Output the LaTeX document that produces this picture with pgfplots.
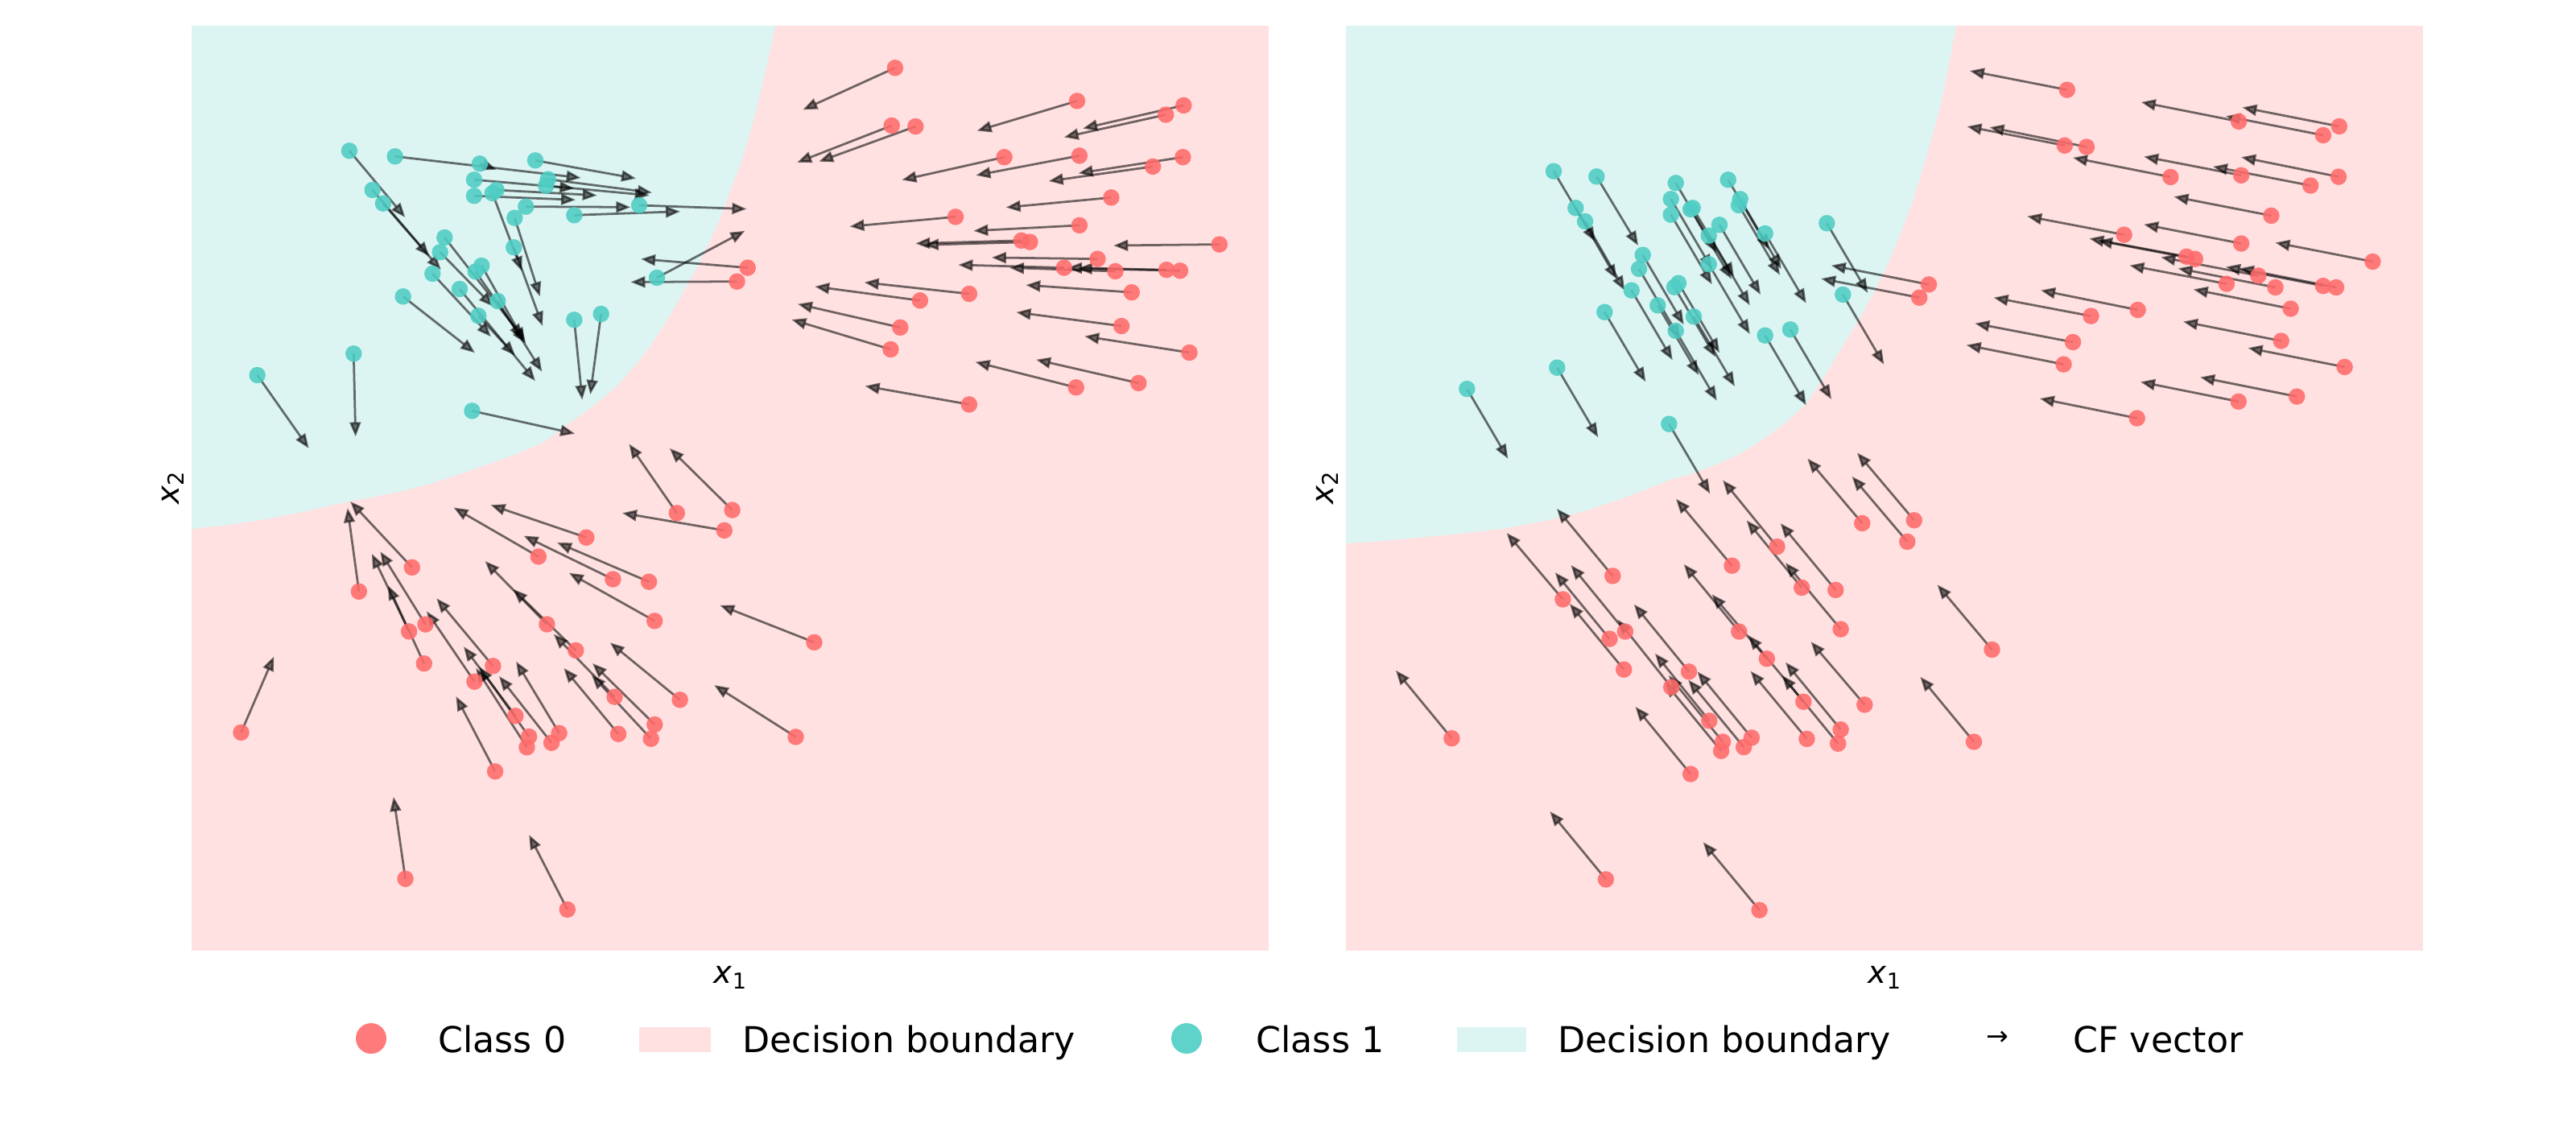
\documentclass[border=0pt]{standalone}
\usepackage{fontspec}
\setmainfont{DejaVu Sans}
\usepackage{pgfplots}
\pgfplotsset{compat=1.18}
\usepackage{pgfplotstable}
\usetikzlibrary{arrows.meta}

\definecolor{cls0}{HTML}{FF6B6B}
\definecolor{cls1}{HTML}{4ECDC4}
\definecolor{bg0}{HTML}{FFE1E1}
\definecolor{bg1}{HTML}{DCF5F3}

% points (x y) and tips of the CF vectors (tx ty), picture units, y downwards
\pgfplotstableread{
x y tx ty
1111.9 84.3 997.4 136.3
1338.0 125.4 1213.7 162.5
1470.3 130.9 1345.2 159.6
1448.2 142.5 1321.8 170.5
1107.7 156.0 990.2 201.8
1137.3 157.1 1017.3 200.7
1247.6 195.2 1120.4 223.6
1340.9 193.4 1212.4 217.8
1469.4 195.2 1339.6 215.2
1432.1 206.9 1302.7 225.0
1380.4 245.4 1249.7 257.7
1187.0 269.4 1055.5 281.4
1340.9 279.9 1209.4 286.8
1268.8 298.8 1137.3 302.5
1279.4 300.6 1148.0 304.3
1514.8 303.6 1383.3 305.0
1363.4 321.7 1231.9 319.9
1321.8 332.6 1190.4 329.0
1385.5 337.0 1254.0 332.6
1449.1 335.2 1326.1 332.6
1466.0 336.3 1338.8 333.4
928.7 332.6 796.1 321.7
915.5 349.7 783.5 350.4
1203.9 365.0 1073.7 350.8
1142.9 373.3 1012.2 355.9
1405.8 363.2 1274.3 354.1
1118.3 406.8 991.0 377.7
1106.4 434.0 983.4 397.0
1393.1 405.0 1262.5 387.9
1477.5 438.0 1347.3 417.7
1336.7 481.3 1211.6 449.7
1414.3 475.9 1287.1 446.8
1203.9 502.4 1074.6 479.5
909.6 633.6 831.9 556.9
899.8 658.9 773.0 637.3
1011.4 797.9 894.3 751.8
988.5 915.4 887.1 851.0
840.8 637.3 781.4 551.5
728.3 667.7 609.5 627.3
668.8 691.4 563.5 630.5
761.4 719.5 650.6 665.6
806.1 722.7 692.1 674.0
813.2 771.3 706.8 711.7
511.8 704.8 435.2 623.0
445.9 734.8 431.7 631.2
528.5 775.6 472.4 685.1
508.1 784.4 461.9 687.9
526.8 824.2 482.0 727.3
612.4 827.3 542.3 743.3
589.4 846.7 530.0 759.3
640.3 889.3 576.0 803.3
657.1 915.0 595.2 828.3
654.5 928.3 591.3 830.0
685.1 922.7 620.0 840.0
694.6 910.7 641.1 821.7
615.1 958.3 566.5 865.0
679.4 775.5 602.5 697.0
715.3 808.0 637.4 731.8
763.5 865.7 687.8 787.7
813.3 900.0 736.0 824.0
808.7 917.7 734.8 838.3
768.1 911.7 700.4 830.0
844.6 869.3 757.8 798.3
299.5 909.9 340.3 815.4
503.6 1091.7 488.9 989.9
704.8 1129.8 657.2 1037.1
}\leftzero

\pgfplotstableread{
x y tx ty
434.0 187.3 503.3 270.0
462.7 236.0 533.3 318.3
476.0 252.7 547.7 335.0
490.7 194.3 721.7 221.0
596.0 203.3 616.7 210.7
665.0 199.3 790.0 221.7
589.0 223.3 713.3 234.0
680.7 222.7 810.0 239.3
678.3 230.7 806.7 242.7
616.7 236.0 741.7 242.7
589.0 243.3 715.0 248.3
611.7 240.0 648.3 336.7
653.3 256.7 783.3 257.3
713.3 267.3 845.0 262.7
794.0 255.0 927.4 259.6
639.3 270.7 670.7 368.3
638.3 307.3 674.0 405.0
552.3 295.0 650.0 420.0
546.7 313.3 612.7 380.7
537.3 340.0 610.0 418.3
571.0 359.0 665.0 473.3
598.3 330.0 651.7 425.0
590.7 337.3 653.3 426.7
618.3 374.0 673.3 461.7
594.3 392.3 640.0 441.7
500.7 368.3 590.0 438.3
713.3 397.3 723.3 496.7
746.7 390.0 733.3 490.0
439.3 439.3 441.7 542.4
319.7 466.0 383.6 556.9
586.5 510.4 714.1 538.7
816.0 345.0 925.3 286.8
}\leftone

\pgfplotstableread{
x y tx ty
2567.8 111.6 2446.9 88.0
2781.1 150.9 2659.8 126.9
2905.8 157.0 2785.4 133.4
2885.9 168.0 2765.0 144.3
2564.8 180.7 2443.5 157.1
2592.0 182.5 2471.5 158.1
2696.3 219.9 2575.0 195.9
2784.1 217.8 2663.2 194.5
2905.0 219.6 2784.1 195.2
2870.2 230.5 2748.9 206.9
2821.4 267.9 2700.5 244.3
2638.6 291.6 2518.2 268.7
2784.1 302.5 2663.2 278.8
2947.4 325.0 2826.5 301.4
2716.2 318.8 2595.4 296.3
2726.8 321.7 2606.0 298.8
2805.3 342.4 2684.4 319.5
2765.9 352.6 2645.4 329.7
2826.5 357.0 2705.6 333.4
2885.9 355.2 2765.0 331.5
2902.0 357.0 2782.0 333.4
2845.6 383.5 2724.7 359.5
2655.6 385.0 2535.1 360.6
2597.5 392.6 2476.6 369.7
2833.7 423.5 2712.0 399.5
2575.0 425.0 2453.3 401.7
2563.5 452.6 2442.7 428.6
2912.6 455.9 2792.6 432.2
2853.2 492.6 2733.2 468.6
2780.7 498.8 2659.0 474.4
2654.7 519.5 2533.9 495.1
2396.0 353.4 2274.8 329.7
2384.2 369.7 2262.2 346.1
2377.8 646.3 2307.0 562.4
2313.3 650.0 2245.3 569.6
2369.3 672.9 2300.6 591.8
2474.5 807.0 2406.6 726.3
2316.3 875.4 2249.5 797.2
2452.0 921.5 2385.4 840.8
2003.3 715.4 1933.9 631.8
2151.5 702.7 2082.0 619.8
2207.5 679.1 2140.1 596.5
2238.2 730.0 2169.6 646.3
2280.3 732.9 2211.7 650.0
2286.6 781.6 2218.0 699.1
1941.4 744.5 1871.6 662.0
1999.5 793.6 1931.8 711.1
2018.9 784.5 1951.5 702.0
2017.2 831.7 1949.9 750.0
2160.3 784.5 2091.7 700.9
2194.8 818.3 2126.6 738.3
2098.0 834.3 2029.8 750.7
2076.1 853.6 2009.6 769.9
2123.3 895.4 2055.9 811.7
2140.1 921.5 2072.8 839.0
2138.0 932.8 2068.5 848.1
2175.9 916.4 2108.5 834.3
2166.2 928.1 2097.2 844.5
2240.3 871.7 2171.7 789.2
2244.5 917.9 2174.6 833.6
2286.6 906.3 2218.0 822.7
2283.2 923.7 2213.8 839.0
2100.1 961.5 2031.5 877.9
1803.4 917.2 1733.9 832.8
1994.9 1092.4 1925.4 1008.0
2185.6 1130.6 2115.7 1046.2
}\rightzero

\pgfplotstableread{
x y tx ty
1930.0 212.7 1981.7 300.0
1957.3 258.3 2008.3 346.7
1969.0 275.0 2018.3 360.7
1983.3 219.3 2035.0 305.0
2081.7 227.3 2132.7 314.0
2075.7 247.3 2126.7 334.0
2075.7 266.7 2126.7 353.3
2100.0 260.0 2151.0 346.7
2102.7 258.3 2154.0 344.0
2136.0 279.3 2187.0 366.0
2122.7 292.7 2173.7 379.3
2122.7 328.3 2173.7 415.0
2146.7 223.3 2197.7 310.0
2161.7 247.3 2212.7 334.0
2160.0 255.0 2211.0 341.7
2192.7 290.0 2243.7 376.7
2269.3 277.3 2320.3 364.0
2289.3 366.0 2340.3 452.7
2040.7 316.7 2091.7 403.3
2036.0 334.0 2087.0 420.7
2026.7 360.7 2077.7 447.3
2059.3 379.3 2110.3 466.0
2080.0 356.7 2131.0 443.3
2085.0 351.7 2136.0 438.3
2104.0 393.3 2155.0 480.0
2081.7 411.0 2132.7 497.7
1993.3 387.7 2044.3 474.3
1934.3 456.7 1985.3 543.3
2073.3 526.7 2124.3 613.3
2192.7 416.7 2243.7 503.3
2224.0 409.3 2275.0 496.0
1822.3 483.1 1873.3 569.8
}\rightone

\pgfplotsset{
  cfpanel/.style={
    scale only axis, width=6.69in, height=5.745in,
    hide axis, enlargelimits=false,
    y dir=reverse, ymin=32, ymax=1181,
  },
  pts0/.style={only marks, mark=*, mark size=3.7pt,
    mark options={draw=cls0, draw opacity=0, fill=cls0, fill opacity=0.88}},
  pts1/.style={only marks, mark=*, mark size=3.7pt,
    mark options={draw=cls1, draw opacity=0, fill=cls1, fill opacity=0.88}},
  cfarrow/.style={black, opacity=0.56, line width=1pt,
    -{Triangle[length=6.5pt,width=5pt]},
    quiver={u=\thisrow{tx}-\thisrow{x}, v=\thisrow{ty}-\thisrow{y}}},
}

\newcommand{\xlab}[1]{{\fontsize{14}{16}\selectfont\itshape x\raisebox{-0.3ex}{\upshape\fontsize{9.8}{10}\selectfont #1}}}

\begin{document}
\begin{tikzpicture}
\useasboundingbox (0,0) rectangle (16in,7in);

% left panel
\begin{axis}[cfpanel, at={(1.19in,1.095in)}, anchor=south west,
    xmin=238, xmax=1576]
  \addplot[fill=bg0, draw=none] coordinates {(238,32) (1576,32) (1576,1181) (238,1181)} -- cycle;
  \addplot[fill=bg1, draw=none] coordinates {
    (238,32) (963,32) (956,66) (948,100) (940,135) (930,170) (920,203)
    (908,235) (895,270) (880,303) (866,332) (850,360) (831,394) (810,427)
    (793,449) (775,470) (759,486) (742,500) (724,514) (705,527) (689,540)
    (672,551) (646,562) (620,572) (594,581) (567,590) (534,601) (500,610)
    (466,617) (432,623) (381,635) (330,645) (284,652) (238,657)} -- cycle;
  \addplot[pts0] table[x=x, y=y] {\leftzero};
  \addplot[pts1] table[x=x, y=y] {\leftone};
  \addplot[cfarrow] table[x=x, y=y] {\leftzero};
  \addplot[cfarrow] table[x=x, y=y] {\leftone};
\end{axis}

% right panel
\begin{axis}[cfpanel, at={(8.36in,1.095in)}, anchor=south west,
    xmin=1672, xmax=3010]
  \addplot[fill=bg0, draw=none] coordinates {(1672,32) (3010,32) (3010,1181) (1672,1181)} -- cycle;
  \addplot[fill=bg1, draw=none] coordinates {
    (1672,32) (2430,32) (2425,58) (2420,85) (2415,111) (2409,137) (2401,166)
    (2393,195) (2384,224) (2375,253) (2365,279) (2355,305) (2344,330)
    (2332,355) (2312,392) (2290,428) (2268,465) (2245,500) (2215,528)
    (2182,551) (2157,566) (2130,578) (2103,588) (2075,596) (2024,616)
    (1972,634) (1919,647) (1866,657) (1813,663) (1760,668) (1716,672)
    (1672,675)} -- cycle;
  \addplot[pts0] table[x=x, y=y] {\rightzero};
  \addplot[pts1] table[x=x, y=y] {\rightone};
  \addplot[cfarrow] table[x=x, y=y] {\rightzero};
  \addplot[cfarrow] table[x=x, y=y] {\rightone};
\end{axis}

% axis labels
\node[anchor=base, inner sep=0] at (4.535in,0.8915in) {\xlab{1}};
\node[anchor=base, inner sep=0] at (11.705in,0.8915in) {\xlab{1}};
\node[anchor=base, inner sep=0, rotate=90] at (1.11in,3.97in) {\xlab{2}};
\node[anchor=base, inner sep=0, rotate=90] at (8.28in,3.97in) {\xlab{2}};

% legend
\begingroup
\fontsize{16}{19}\selectfont
\fill[cls0, opacity=0.9] (2.305in,0.55in) circle (0.095in);
\node[anchor=base west, inner sep=0] at (2.72in,0.46in) {Class 0};
\fill[bg0] (3.97in,0.465in) rectangle (4.415in,0.62in);
\node[anchor=base west, inner sep=0] at (4.61in,0.46in) {Decision boundary};
\fill[cls1, opacity=0.9] (7.37in,0.55in) circle (0.095in);
\node[anchor=base west, inner sep=0] at (7.80in,0.46in) {Class 1};
\fill[bg1] (9.05in,0.465in) rectangle (9.48in,0.62in);
\node[anchor=base west, inner sep=0] at (9.675in,0.46in) {Decision boundary};
\node[inner sep=0] at (12.405in,0.55in) {\fontsize{12}{13}\selectfont →};
\node[anchor=base west, inner sep=0] at (12.875in,0.46in) {CF vector};
\endgroup
\end{tikzpicture}
\end{document}
